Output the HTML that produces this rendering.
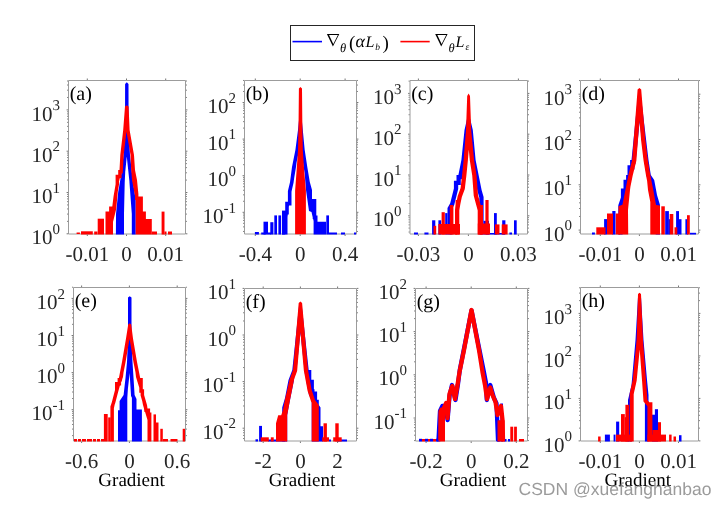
<!DOCTYPE html><html><head><meta charset="utf-8"><style>html,body{margin:0;padding:0;background:#fff;overflow:hidden}svg{display:block;will-change:transform}</style></head><body>
<svg width="727" height="508" viewBox="0 0 727 508" text-rendering="geometricPrecision">
<rect width="727" height="508" fill="#fff"/>
<clipPath id="cpa"><rect x="68.5" y="80.5" width="117.0" height="154.1"/></clipPath>
<line x1="68.5" y1="234.0" x2="185.5" y2="234.0" stroke="#9c9c9c" stroke-width="1"/>
<g clip-path="url(#cpa)">
<path d="M135.70,254.00 L135.70,200.00 L132.70,180.00 L130.00,155.00 L128.60,130.00 L128.50,84.00 L126.80,82.30 L125.10,84.00 L125.00,130.00 L123.50,155.00 L122.00,170.00 L118.20,192.00 L116.00,214.00 L115.80,254.00ZM124.00,250.60 L124.00,214.00 L124.70,183.00 L125.25,171.19 L125.37,170.46 L126.76,156.62 L129.33,180.43 L129.38,180.80 L129.50,183.00 L131.80,214.00 L131.80,250.60Z" fill="#0000ff" fill-rule="evenodd"/>
<path d="M151.80,254.00 L151.80,219.10 L145.90,219.10 L145.90,211.60 L142.90,211.60 L142.90,196.60 L138.40,196.60 L138.40,194.00 L137.00,180.00 L135.00,170.00 L134.00,155.00 L129.60,130.00 L128.60,106.50 L126.80,105.20 L125.00,106.50 L123.20,130.00 L120.30,155.00 L119.50,170.00 L118.20,170.00 L118.20,174.77 L115.60,174.77 L115.60,184.30 L113.60,196.00 L112.30,206.40 L109.10,206.40 L109.10,211.60 L105.50,211.60 L105.50,254.00ZM113.00,250.60 L113.00,222.00 L116.20,209.00 L117.80,191.61 L119.00,184.59 L119.00,181.67 L119.75,178.17 L121.60,178.17 L121.60,173.40 L122.72,173.40 L123.69,155.29 L126.43,131.63 L130.47,154.56 L130.50,155.00 L131.20,170.00 L132.00,180.00 L135.00,196.22 L135.00,200.00 L135.70,200.00 L135.70,250.60Z" fill="#ff0000" fill-rule="evenodd"/>
<rect x="97.7" y="218.7" width="6.299999999999997" height="16.30000000000001" fill="#ff0000"/>
<rect x="161.6" y="211.6" width="2.9000000000000057" height="23.400000000000006" fill="#ff0000"/>
<polygon points="76.6,234 76.6,232.6 79.9,232.6 79.9,234" fill="#ff0000"/>
<rect x="81" y="231.3" width="11.799999999999997" height="3.6999999999999886" fill="#ff0000"/>
<rect x="94.2" y="231.5" width="3.299999999999997" height="3.5" fill="#ff0000"/>
<rect x="151.8" y="231.5" width="5.199999999999989" height="3.5" fill="#ff0000"/>
<rect x="164.5" y="231.5" width="2.0" height="3.5" fill="#ff0000"/>
<rect x="168" y="231.5" width="4" height="3.5" fill="#ff0000"/>
</g>
<path d="M68.5,234.0 V80.5 H185.5 V234.0" fill="none" stroke="#9c9c9c" stroke-width="1"/>
<path d="M68.1,233.80h-1.5M185.9,233.80h1.5M68.1,221.37h-1.0M185.9,221.37h1.0M68.1,214.09h-1.0M185.9,214.09h1.0M68.1,208.93h-1.0M185.9,208.93h1.0M68.1,204.93h-1.0M185.9,204.93h1.0M68.1,201.66h-1.0M185.9,201.66h1.0M68.1,198.90h-1.0M185.9,198.90h1.0M68.1,196.50h-1.0M185.9,196.50h1.0M68.1,194.39h-1.0M185.9,194.39h1.0M68.1,192.50h-1.5M185.9,192.50h1.5M68.1,180.07h-1.0M185.9,180.07h1.0M68.1,172.79h-1.0M185.9,172.79h1.0M68.1,167.63h-1.0M185.9,167.63h1.0M68.1,163.63h-1.0M185.9,163.63h1.0M68.1,160.36h-1.0M185.9,160.36h1.0M68.1,157.60h-1.0M185.9,157.60h1.0M68.1,155.20h-1.0M185.9,155.20h1.0M68.1,153.09h-1.0M185.9,153.09h1.0M68.1,151.20h-1.5M185.9,151.20h1.5M68.1,138.77h-1.0M185.9,138.77h1.0M68.1,131.49h-1.0M185.9,131.49h1.0M68.1,126.33h-1.0M185.9,126.33h1.0M68.1,122.33h-1.0M185.9,122.33h1.0M68.1,119.06h-1.0M185.9,119.06h1.0M68.1,116.30h-1.0M185.9,116.30h1.0M68.1,113.90h-1.0M185.9,113.90h1.0M68.1,111.79h-1.0M185.9,111.79h1.0M68.1,109.90h-1.5M185.9,109.90h1.5M68.1,97.47h-1.0M185.9,97.47h1.0M68.1,90.19h-1.0M185.9,90.19h1.0M68.1,85.03h-1.0M185.9,85.03h1.0M68.1,81.03h-1.0M185.9,81.03h1.0M87.30,80.0v-1.5M87.30,234.5v1.5M126.50,80.0v-1.5M126.50,234.5v1.5M165.70,80.0v-1.5M165.70,234.5v1.5" stroke="#666" stroke-width="0.9" fill="none"/>
<text x="60.0" y="244.4" text-anchor="end" font-family="Liberation Serif" font-size="21" fill="#262626">10<tspan font-size="15" dy="-10.4">0</tspan></text>
<text x="60.0" y="203.1" text-anchor="end" font-family="Liberation Serif" font-size="21" fill="#262626">10<tspan font-size="15" dy="-10.4">1</tspan></text>
<text x="60.0" y="161.8" text-anchor="end" font-family="Liberation Serif" font-size="21" fill="#262626">10<tspan font-size="15" dy="-10.4">2</tspan></text>
<text x="60.0" y="120.5" text-anchor="end" font-family="Liberation Serif" font-size="21" fill="#262626">10<tspan font-size="15" dy="-10.4">3</tspan></text>
<text x="87.3" y="261.0" text-anchor="middle" font-family="Liberation Serif" font-size="21" fill="#262626">-0.01</text>
<text x="126.5" y="261.0" text-anchor="middle" font-family="Liberation Serif" font-size="21" fill="#262626">0</text>
<text x="165.7" y="261.0" text-anchor="middle" font-family="Liberation Serif" font-size="21" fill="#262626">0.01</text>
<text x="69.7" y="100.2" font-family="Liberation Serif" font-size="20" fill="#000">(a)</text>
<clipPath id="cpb"><rect x="244.5" y="80.5" width="112.0" height="154.1"/></clipPath>
<line x1="244.5" y1="234.0" x2="356.5" y2="234.0" stroke="#9c9c9c" stroke-width="1"/>
<g clip-path="url(#cpb)">
<path d="M326.00,254.00 L326.00,221.70 L317.50,221.70 L317.50,215.40 L316.30,215.40 L316.30,199.00 L312.00,199.00 L312.00,190.00 L309.80,182.00 L307.30,167.00 L304.70,150.00 L302.80,130.00 L301.30,115.00 L300.40,114.00 L299.50,115.00 L298.00,130.00 L295.40,150.00 L292.00,167.00 L290.00,182.20 L287.90,191.00 L287.90,201.80 L285.20,201.80 L285.20,210.80 L282.00,210.80 L282.00,254.00ZM287.50,250.40 L287.50,217.00 L287.84,214.40 L288.80,214.40 L288.80,207.05 L289.02,205.40 L291.50,205.40 L291.50,191.85 L292.08,188.99 L293.54,182.85 L294.25,177.52 L296.00,167.00 L296.47,163.01 L298.95,150.59 L300.22,140.87 L301.13,150.44 L303.75,167.57 L304.63,172.88 L306.00,190.00 L309.00,211.00 L311.50,212.00 L312.70,217.14 L312.70,219.00 L313.13,219.00 L313.60,221.00 L313.60,250.40Z" fill="#0000ff" fill-rule="evenodd"/>
<rect x="263.5" y="221.7" width="4.5" height="13.300000000000011" fill="#0000ff"/>
<rect x="270.3" y="222.2" width="3.099999999999966" height="12.800000000000011" fill="#0000ff"/>
<rect x="274.3" y="215.4" width="2.6999999999999886" height="19.599999999999994" fill="#0000ff"/>
<rect x="278.4" y="215.4" width="2.7000000000000455" height="19.599999999999994" fill="#0000ff"/>
<rect x="282" y="210.8" width="3.1999999999999886" height="24.19999999999999" fill="#0000ff"/>
<rect x="326.3" y="215.4" width="2.6999999999999886" height="19.599999999999994" fill="#0000ff"/>
<rect x="254.9" y="232" width="3.9999999999999716" height="3.0" fill="#0000ff"/>
<rect x="261.2" y="232.5" width="4.5" height="2.5" fill="#0000ff"/>
<rect x="268" y="232.5" width="3" height="2.5" fill="#0000ff"/>
<rect x="329" y="232.5" width="8" height="2.5" fill="#0000ff"/>
<rect x="341" y="232.5" width="4" height="2.5" fill="#0000ff"/>
<rect x="354" y="232.5" width="2.3999999999999773" height="2.5" fill="#0000ff"/>
<polygon points="295.1,234.5 295.1,190.7 296.5,172 298,150 298.6,120 298.9,88.5 300.4,87.1 302,88.5 302.3,120 302.8,150 304.3,172 305.9,190.7 305.9,234.5" fill="#ff0000"/>
</g>
<path d="M244.5,234.0 V80.5 H356.5 V234.0" fill="none" stroke="#9c9c9c" stroke-width="1"/>
<path d="M244.1,231.44h-1.0M356.9,231.44h1.0M244.1,226.86h-1.0M356.9,226.86h1.0M244.1,223.32h-1.0M356.9,223.32h1.0M244.1,220.42h-1.0M356.9,220.42h1.0M244.1,217.97h-1.0M356.9,217.97h1.0M244.1,215.85h-1.0M356.9,215.85h1.0M244.1,213.97h-1.0M356.9,213.97h1.0M244.1,212.30h-1.5M356.9,212.30h1.5M244.1,201.28h-1.0M356.9,201.28h1.0M244.1,194.84h-1.0M356.9,194.84h1.0M244.1,190.26h-1.0M356.9,190.26h1.0M244.1,186.72h-1.0M356.9,186.72h1.0M244.1,183.82h-1.0M356.9,183.82h1.0M244.1,181.37h-1.0M356.9,181.37h1.0M244.1,179.25h-1.0M356.9,179.25h1.0M244.1,177.37h-1.0M356.9,177.37h1.0M244.1,175.70h-1.5M356.9,175.70h1.5M244.1,164.68h-1.0M356.9,164.68h1.0M244.1,158.24h-1.0M356.9,158.24h1.0M244.1,153.66h-1.0M356.9,153.66h1.0M244.1,150.12h-1.0M356.9,150.12h1.0M244.1,147.22h-1.0M356.9,147.22h1.0M244.1,144.77h-1.0M356.9,144.77h1.0M244.1,142.65h-1.0M356.9,142.65h1.0M244.1,140.77h-1.0M356.9,140.77h1.0M244.1,139.10h-1.5M356.9,139.10h1.5M244.1,128.08h-1.0M356.9,128.08h1.0M244.1,121.64h-1.0M356.9,121.64h1.0M244.1,117.06h-1.0M356.9,117.06h1.0M244.1,113.52h-1.0M356.9,113.52h1.0M244.1,110.62h-1.0M356.9,110.62h1.0M244.1,108.17h-1.0M356.9,108.17h1.0M244.1,106.05h-1.0M356.9,106.05h1.0M244.1,104.17h-1.0M356.9,104.17h1.0M244.1,102.50h-1.5M356.9,102.50h1.5M244.1,91.48h-1.0M356.9,91.48h1.0M244.1,85.04h-1.0M356.9,85.04h1.0M244.1,80.46h-1.0M356.9,80.46h1.0M255.30,80.0v-1.5M255.30,234.5v1.5M300.20,80.0v-1.5M300.20,234.5v1.5M345.10,80.0v-1.5M345.10,234.5v1.5" stroke="#666" stroke-width="0.9" fill="none"/>
<text x="236.0" y="222.9" text-anchor="end" font-family="Liberation Serif" font-size="21" fill="#262626">10<tspan font-size="15" dy="-10.4">-1</tspan></text>
<text x="236.0" y="186.3" text-anchor="end" font-family="Liberation Serif" font-size="21" fill="#262626">10<tspan font-size="15" dy="-10.4">0</tspan></text>
<text x="236.0" y="149.7" text-anchor="end" font-family="Liberation Serif" font-size="21" fill="#262626">10<tspan font-size="15" dy="-10.4">1</tspan></text>
<text x="236.0" y="113.1" text-anchor="end" font-family="Liberation Serif" font-size="21" fill="#262626">10<tspan font-size="15" dy="-10.4">2</tspan></text>
<text x="255.3" y="261.0" text-anchor="middle" font-family="Liberation Serif" font-size="21" fill="#262626">-0.4</text>
<text x="300.2" y="261.0" text-anchor="middle" font-family="Liberation Serif" font-size="21" fill="#262626">0</text>
<text x="345.1" y="261.0" text-anchor="middle" font-family="Liberation Serif" font-size="21" fill="#262626">0.4</text>
<text x="245.7" y="100.2" font-family="Liberation Serif" font-size="20" fill="#000">(b)</text>
<clipPath id="cpc"><rect x="410.0" y="80.5" width="117.5" height="154.1"/></clipPath>
<line x1="410.0" y1="234.0" x2="527.5" y2="234.0" stroke="#9c9c9c" stroke-width="1"/>
<g clip-path="url(#cpc)">
<path d="M483.60,254.00 L483.60,197.00 L481.60,190.00 L478.60,175.00 L475.60,160.00 L472.80,130.00 L470.20,119.00 L468.60,117.50 L467.00,119.00 L464.50,130.00 L461.40,160.00 L458.40,175.00 L456.50,175.00 L456.50,180.66 L453.90,180.66 L453.90,188.40 L450.20,203.30 L447.50,208.10 L447.50,254.00ZM451.80,209.23 L454.23,204.90 L458.20,188.93 L458.20,184.96 L460.80,184.96 L460.80,179.30 L461.93,179.30 L465.66,160.64 L468.64,131.74 L471.34,160.62 L477.42,191.01 L479.30,197.60 L479.30,249.70 L451.80,249.70Z" fill="#0000ff" fill-rule="evenodd"/>
<rect x="432.1" y="220.3" width="3.1999999999999886" height="14.699999999999989" fill="#0000ff"/>
<rect x="438.4" y="220.3" width="2.8000000000000114" height="14.699999999999989" fill="#0000ff"/>
<rect x="445.2" y="213.1" width="2.3000000000000114" height="21.900000000000006" fill="#0000ff"/>
<rect x="483.6" y="220.8" width="5.399999999999977" height="14.199999999999989" fill="#0000ff"/>
<rect x="494" y="213.1" width="2.8000000000000114" height="21.900000000000006" fill="#0000ff"/>
<rect x="502.2" y="220.3" width="3.1999999999999886" height="14.699999999999989" fill="#0000ff"/>
<rect x="514" y="220.3" width="2.7000000000000455" height="14.699999999999989" fill="#0000ff"/>
<rect x="414" y="232.5" width="4" height="2.5" fill="#0000ff"/>
<rect x="424.4" y="232.5" width="4.100000000000023" height="2.5" fill="#0000ff"/>
<rect x="486" y="233" width="19" height="2.0" fill="#0000ff"/>
<rect x="509.4" y="232.5" width="2.6000000000000227" height="2.5" fill="#0000ff"/>
<path d="M482.00,254.00 L482.00,210.00 L480.10,203.00 L478.00,195.00 L476.50,175.00 L474.10,160.00 L471.20,130.00 L470.00,96.00 L468.60,93.50 L467.20,96.00 L466.00,130.00 L463.60,160.00 L462.10,175.00 L460.60,188.00 L457.70,195.90 L456.20,203.00 L455.00,210.00 L455.00,254.00ZM459.30,210.37 L460.42,203.81 L461.84,197.09 L464.81,189.00 L466.38,175.46 L467.88,160.39 L468.76,149.44 L469.83,160.55 L472.23,175.50 L473.74,195.71 L475.95,204.11 L477.70,210.57 L477.70,249.70 L459.30,249.70Z" fill="#ff0000" fill-rule="evenodd"/>
<rect x="433.5" y="225.8" width="2.6999999999999886" height="9.199999999999989" fill="#ff0000"/>
<rect x="438.4" y="224" width="21.600000000000023" height="11.0" fill="#ff0000"/>
<rect x="441.6" y="212.2" width="3.1999999999999886" height="22.80000000000001" fill="#ff0000"/>
<rect x="449.8" y="205" width="3.599999999999966" height="30.0" fill="#ff0000"/>
<rect x="455.6" y="200" width="1.3999999999999773" height="35.0" fill="#ff0000"/>
<rect x="480" y="205" width="3" height="30.0" fill="#ff0000"/>
<rect x="485.4" y="200" width="3.2000000000000455" height="35.0" fill="#ff0000"/>
<rect x="477.8" y="223.5" width="12.199999999999989" height="11.5" fill="#ff0000"/>
<rect x="494.9" y="224.4" width="4.600000000000023" height="10.599999999999994" fill="#ff0000"/>
<rect x="501.7" y="224.4" width="5.900000000000034" height="10.599999999999994" fill="#ff0000"/>
</g>
<path d="M410.0,234.0 V80.5 H527.5 V234.0" fill="none" stroke="#9c9c9c" stroke-width="1"/>
<path d="M409.6,232.04h-1.0M527.9,232.04h1.0M409.6,228.08h-1.0M527.9,228.08h1.0M409.6,224.85h-1.0M527.9,224.85h1.0M409.6,222.12h-1.0M527.9,222.12h1.0M409.6,219.75h-1.0M527.9,219.75h1.0M409.6,217.67h-1.0M527.9,217.67h1.0M409.6,215.80h-1.5M527.9,215.80h1.5M409.6,203.52h-1.0M527.9,203.52h1.0M409.6,196.33h-1.0M527.9,196.33h1.0M409.6,191.24h-1.0M527.9,191.24h1.0M409.6,187.28h-1.0M527.9,187.28h1.0M409.6,184.05h-1.0M527.9,184.05h1.0M409.6,181.32h-1.0M527.9,181.32h1.0M409.6,178.95h-1.0M527.9,178.95h1.0M409.6,176.87h-1.0M527.9,176.87h1.0M409.6,175.00h-1.5M527.9,175.00h1.5M409.6,162.72h-1.0M527.9,162.72h1.0M409.6,155.53h-1.0M527.9,155.53h1.0M409.6,150.44h-1.0M527.9,150.44h1.0M409.6,146.48h-1.0M527.9,146.48h1.0M409.6,143.25h-1.0M527.9,143.25h1.0M409.6,140.52h-1.0M527.9,140.52h1.0M409.6,138.15h-1.0M527.9,138.15h1.0M409.6,136.07h-1.0M527.9,136.07h1.0M409.6,134.20h-1.5M527.9,134.20h1.5M409.6,121.92h-1.0M527.9,121.92h1.0M409.6,114.73h-1.0M527.9,114.73h1.0M409.6,109.64h-1.0M527.9,109.64h1.0M409.6,105.68h-1.0M527.9,105.68h1.0M409.6,102.45h-1.0M527.9,102.45h1.0M409.6,99.72h-1.0M527.9,99.72h1.0M409.6,97.35h-1.0M527.9,97.35h1.0M409.6,95.27h-1.0M527.9,95.27h1.0M409.6,93.40h-1.5M527.9,93.40h1.5M409.6,81.12h-1.0M527.9,81.12h1.0M418.40,80.0v-1.5M418.40,234.5v1.5M468.40,80.0v-1.5M468.40,234.5v1.5M518.40,80.0v-1.5M518.40,234.5v1.5" stroke="#666" stroke-width="0.9" fill="none"/>
<text x="401.5" y="226.4" text-anchor="end" font-family="Liberation Serif" font-size="21" fill="#262626">10<tspan font-size="15" dy="-10.4">0</tspan></text>
<text x="401.5" y="185.6" text-anchor="end" font-family="Liberation Serif" font-size="21" fill="#262626">10<tspan font-size="15" dy="-10.4">1</tspan></text>
<text x="401.5" y="144.8" text-anchor="end" font-family="Liberation Serif" font-size="21" fill="#262626">10<tspan font-size="15" dy="-10.4">2</tspan></text>
<text x="401.5" y="104.0" text-anchor="end" font-family="Liberation Serif" font-size="21" fill="#262626">10<tspan font-size="15" dy="-10.4">3</tspan></text>
<text x="418.4" y="261.0" text-anchor="middle" font-family="Liberation Serif" font-size="21" fill="#262626">-0.03</text>
<text x="468.4" y="261.0" text-anchor="middle" font-family="Liberation Serif" font-size="21" fill="#262626">0</text>
<text x="518.4" y="261.0" text-anchor="middle" font-family="Liberation Serif" font-size="21" fill="#262626">0.03</text>
<text x="411.2" y="100.2" font-family="Liberation Serif" font-size="20" fill="#000">(c)</text>
<clipPath id="cpd"><rect x="580.5" y="80.5" width="118.0" height="154.1"/></clipPath>
<line x1="580.5" y1="234.0" x2="698.5" y2="234.0" stroke="#9c9c9c" stroke-width="1"/>
<g clip-path="url(#cpd)">
<path d="M660.00,254.00 L660.00,205.00 L657.00,195.00 L654.20,180.00 L650.80,175.00 L648.50,160.00 L640.80,95.00 L639.40,94.00 L638.00,95.00 L631.50,160.00 L630.10,160.00 L630.10,165.25 L627.50,165.25 L627.50,175.00 L626.10,175.00 L626.10,179.75 L623.50,179.75 L623.50,188.58 L620.90,188.58 L620.90,197.40 L618.30,205.30 L618.30,254.00ZM622.60,205.99 L625.20,198.09 L625.20,192.88 L627.80,192.88 L627.80,184.05 L630.40,184.05 L630.40,179.30 L631.80,179.30 L631.80,169.55 L634.40,169.55 L634.40,164.30 L635.39,164.30 L639.64,121.79 L644.24,160.58 L646.70,176.61 L650.14,181.67 L652.82,196.02 L655.70,205.63 L655.70,249.70 L622.60,249.70Z" fill="#0000ff" fill-rule="evenodd"/>
<rect x="604.1" y="219.1" width="2.8999999999999773" height="15.900000000000006" fill="#0000ff"/>
<rect x="612.3" y="211" width="3.2000000000000455" height="24.0" fill="#0000ff"/>
<rect x="665.2" y="211.1" width="3.699999999999932" height="23.900000000000006" fill="#0000ff"/>
<rect x="668.9" y="219.2" width="1.1000000000000227" height="15.800000000000011" fill="#0000ff"/>
<rect x="676.1" y="211.1" width="2.8999999999999773" height="23.900000000000006" fill="#0000ff"/>
<rect x="679" y="219.2" width="2.5" height="15.800000000000011" fill="#0000ff"/>
<rect x="685.4" y="219.2" width="2.6000000000000227" height="15.800000000000011" fill="#0000ff"/>
<rect x="592" y="232.5" width="2.8999999999999773" height="2.5" fill="#0000ff"/>
<rect x="690" y="232.8" width="6" height="2.1999999999999886" fill="#0000ff"/>
<path d="M660.00,254.00 L660.00,205.60 L656.00,205.00 L653.30,190.00 L650.30,175.00 L647.80,160.00 L645.40,140.00 L641.20,89.50 L639.40,88.10 L637.60,89.50 L632.10,160.00 L628.40,175.00 L625.40,190.00 L622.40,204.80 L618.50,206.30 L618.50,254.00ZM628.36,249.70 L628.00,210.00 L630.00,190.00 L630.43,186.78 L632.60,175.94 L636.36,160.69 L639.48,120.69 L641.12,140.43 L643.54,160.61 L646.07,175.78 L647.09,180.85 L648.00,190.00 L650.30,202.00 L650.30,249.70Z" fill="#ff0000" fill-rule="evenodd"/>
<rect x="596.3" y="227.3" width="9.200000000000045" height="7.699999999999989" fill="#ff0000"/>
<rect x="607" y="213.5" width="6" height="21.5" fill="#ff0000"/>
<rect x="615.8" y="213.5" width="4.2000000000000455" height="21.5" fill="#ff0000"/>
<rect x="661.3" y="206.3" width="3.5" height="28.69999999999999" fill="#ff0000"/>
<rect x="669.7" y="214" width="3.599999999999909" height="21.0" fill="#ff0000"/>
<rect x="674.5" y="227.3" width="2.7999999999999545" height="7.699999999999989" fill="#ff0000"/>
<rect x="687" y="215.2" width="2.7999999999999545" height="19.80000000000001" fill="#ff0000"/>
</g>
<path d="M580.5,234.0 V80.5 H698.5 V234.0" fill="none" stroke="#9c9c9c" stroke-width="1"/>
<path d="M580.1,232.17h-1.0M698.9,232.17h1.0M580.1,230.10h-1.5M698.9,230.10h1.5M580.1,216.46h-1.0M698.9,216.46h1.0M580.1,208.49h-1.0M698.9,208.49h1.0M580.1,202.83h-1.0M698.9,202.83h1.0M580.1,198.44h-1.0M698.9,198.44h1.0M580.1,194.85h-1.0M698.9,194.85h1.0M580.1,191.82h-1.0M698.9,191.82h1.0M580.1,189.19h-1.0M698.9,189.19h1.0M580.1,186.87h-1.0M698.9,186.87h1.0M580.1,184.80h-1.5M698.9,184.80h1.5M580.1,171.16h-1.0M698.9,171.16h1.0M580.1,163.19h-1.0M698.9,163.19h1.0M580.1,157.53h-1.0M698.9,157.53h1.0M580.1,153.14h-1.0M698.9,153.14h1.0M580.1,149.55h-1.0M698.9,149.55h1.0M580.1,146.52h-1.0M698.9,146.52h1.0M580.1,143.89h-1.0M698.9,143.89h1.0M580.1,141.57h-1.0M698.9,141.57h1.0M580.1,139.50h-1.5M698.9,139.50h1.5M580.1,125.86h-1.0M698.9,125.86h1.0M580.1,117.89h-1.0M698.9,117.89h1.0M580.1,112.23h-1.0M698.9,112.23h1.0M580.1,107.84h-1.0M698.9,107.84h1.0M580.1,104.25h-1.0M698.9,104.25h1.0M580.1,101.22h-1.0M698.9,101.22h1.0M580.1,98.59h-1.0M698.9,98.59h1.0M580.1,96.27h-1.0M698.9,96.27h1.0M580.1,94.20h-1.5M698.9,94.20h1.5M580.1,80.56h-1.0M698.9,80.56h1.0M600.30,80.0v-1.5M600.30,234.5v1.5M639.40,80.0v-1.5M639.40,234.5v1.5M678.50,80.0v-1.5M678.50,234.5v1.5" stroke="#666" stroke-width="0.9" fill="none"/>
<text x="572.0" y="240.7" text-anchor="end" font-family="Liberation Serif" font-size="21" fill="#262626">10<tspan font-size="15" dy="-10.4">0</tspan></text>
<text x="572.0" y="195.4" text-anchor="end" font-family="Liberation Serif" font-size="21" fill="#262626">10<tspan font-size="15" dy="-10.4">1</tspan></text>
<text x="572.0" y="150.1" text-anchor="end" font-family="Liberation Serif" font-size="21" fill="#262626">10<tspan font-size="15" dy="-10.4">2</tspan></text>
<text x="572.0" y="104.8" text-anchor="end" font-family="Liberation Serif" font-size="21" fill="#262626">10<tspan font-size="15" dy="-10.4">3</tspan></text>
<text x="600.3" y="261.0" text-anchor="middle" font-family="Liberation Serif" font-size="21" fill="#262626">-0.01</text>
<text x="639.4" y="261.0" text-anchor="middle" font-family="Liberation Serif" font-size="21" fill="#262626">0</text>
<text x="678.5" y="261.0" text-anchor="middle" font-family="Liberation Serif" font-size="21" fill="#262626">0.01</text>
<text x="581.7" y="100.2" font-family="Liberation Serif" font-size="20" fill="#000">(d)</text>
<clipPath id="cpe"><rect x="73.5" y="287.5" width="112.0" height="154.1"/></clipPath>
<line x1="73.5" y1="441.0" x2="185.5" y2="441.0" stroke="#9c9c9c" stroke-width="1"/>
<g clip-path="url(#cpe)">
<path d="M141.90,461.00 L141.90,409.50 L136.50,409.50 L136.50,399.00 L134.60,395.00 L132.50,362.00 L131.50,338.00 L131.50,297.50 L129.70,296.30 L128.00,297.50 L128.00,338.00 L127.00,362.00 L125.50,378.00 L123.60,395.00 L119.60,401.00 L119.60,410.30 L118.00,410.30 L118.00,461.00ZM127.30,457.40 L127.30,398.00 L127.91,388.84 L129.08,378.37 L129.59,372.95 L131.05,395.92 L131.88,397.66 L131.90,398.00 L131.90,457.40Z" fill="#0000ff" fill-rule="evenodd"/>
<path d="M151.40,461.00 L151.40,414.40 L151.40,412.43 L150.10,412.43 L150.10,408.50 L147.50,408.50 L147.00,405.00 L144.10,395.00 L144.10,389.33 L142.80,389.33 L142.80,378.00 L140.20,378.00 L137.00,362.00 L133.00,338.60 L131.20,324.50 L129.70,323.30 L128.20,324.50 L126.00,338.60 L122.00,362.00 L118.90,378.00 L117.60,378.00 L117.60,382.00 L115.00,382.00 L115.00,390.00 L111.90,401.90 L110.40,406.50 L110.40,461.00ZM113.90,457.50 L113.90,408.20 L114.70,404.61 L115.26,402.88 L118.25,391.40 L119.80,386.00 L119.98,385.50 L121.10,385.50 L121.10,382.34 L121.40,381.50 L121.79,381.50 L122.25,379.11 L123.00,377.00 L123.53,372.52 L125.44,362.63 L129.45,339.16 L129.50,338.85 L129.54,339.12 L133.56,362.64 L135.47,372.19 L136.00,377.00 L137.23,381.00 L137.33,381.50 L137.38,381.50 L139.30,387.72 L139.30,392.83 L140.57,392.83 L140.60,393.00 L140.60,395.50 L142.21,401.05 L143.00,405.00 L143.89,407.96 L144.46,412.00 L145.10,412.00 L147.50,420.00 L147.50,457.50Z" fill="#ff0000" fill-rule="evenodd"/>
<rect x="103.9" y="414" width="3.799999999999997" height="28.0" fill="#ff0000"/>
<rect x="108.2" y="417.4" width="2.5" height="24.600000000000023" fill="#ff0000"/>
<rect x="153.5" y="414.4" width="2.5" height="27.600000000000023" fill="#ff0000"/>
<rect x="156" y="422.5" width="2.5" height="19.5" fill="#ff0000"/>
<rect x="160.3" y="428.8" width="2.5" height="13.199999999999989" fill="#ff0000"/>
<rect x="182.7" y="428.8" width="2.700000000000017" height="13.199999999999989" fill="#ff0000"/>
<rect x="74" y="439" width="3" height="3.0" fill="#ff0000"/>
<rect x="78" y="439" width="3" height="3.0" fill="#ff0000"/>
<rect x="82" y="439" width="4" height="3.0" fill="#ff0000"/>
<rect x="87" y="439" width="5" height="3.0" fill="#ff0000"/>
<rect x="93" y="439" width="3" height="3.0" fill="#ff0000"/>
<rect x="97" y="439" width="3" height="3.0" fill="#ff0000"/>
<rect x="101" y="439" width="3" height="3.0" fill="#ff0000"/>
<rect x="163" y="439" width="5" height="3.0" fill="#ff0000"/>
<rect x="170.5" y="439" width="7.0" height="3.0" fill="#ff0000"/>
</g>
<path d="M73.5,441.0 V287.5 H185.5 V441.0" fill="none" stroke="#9c9c9c" stroke-width="1"/>
<path d="M73.1,435.63h-1.0M185.9,435.63h1.0M73.1,429.10h-1.0M185.9,429.10h1.0M73.1,424.46h-1.0M185.9,424.46h1.0M73.1,420.87h-1.0M185.9,420.87h1.0M73.1,417.93h-1.0M185.9,417.93h1.0M73.1,415.45h-1.0M185.9,415.45h1.0M73.1,413.30h-1.0M185.9,413.30h1.0M73.1,411.40h-1.0M185.9,411.40h1.0M73.1,409.70h-1.5M185.9,409.70h1.5M73.1,398.53h-1.0M185.9,398.53h1.0M73.1,392.00h-1.0M185.9,392.00h1.0M73.1,387.36h-1.0M185.9,387.36h1.0M73.1,383.77h-1.0M185.9,383.77h1.0M73.1,380.83h-1.0M185.9,380.83h1.0M73.1,378.35h-1.0M185.9,378.35h1.0M73.1,376.20h-1.0M185.9,376.20h1.0M73.1,374.30h-1.0M185.9,374.30h1.0M73.1,372.60h-1.5M185.9,372.60h1.5M73.1,361.43h-1.0M185.9,361.43h1.0M73.1,354.90h-1.0M185.9,354.90h1.0M73.1,350.26h-1.0M185.9,350.26h1.0M73.1,346.67h-1.0M185.9,346.67h1.0M73.1,343.73h-1.0M185.9,343.73h1.0M73.1,341.25h-1.0M185.9,341.25h1.0M73.1,339.10h-1.0M185.9,339.10h1.0M73.1,337.20h-1.0M185.9,337.20h1.0M73.1,335.50h-1.5M185.9,335.50h1.5M73.1,324.33h-1.0M185.9,324.33h1.0M73.1,317.80h-1.0M185.9,317.80h1.0M73.1,313.16h-1.0M185.9,313.16h1.0M73.1,309.57h-1.0M185.9,309.57h1.0M73.1,306.63h-1.0M185.9,306.63h1.0M73.1,304.15h-1.0M185.9,304.15h1.0M73.1,302.00h-1.0M185.9,302.00h1.0M73.1,300.10h-1.0M185.9,300.10h1.0M73.1,298.40h-1.5M185.9,298.40h1.5M73.1,287.23h-1.0M185.9,287.23h1.0M81.60,287.0v-1.5M81.60,441.5v1.5M129.40,287.0v-1.5M129.40,441.5v1.5M177.20,287.0v-1.5M177.20,441.5v1.5" stroke="#666" stroke-width="0.9" fill="none"/>
<text x="65.0" y="420.3" text-anchor="end" font-family="Liberation Serif" font-size="21" fill="#262626">10<tspan font-size="15" dy="-10.4">-1</tspan></text>
<text x="65.0" y="383.2" text-anchor="end" font-family="Liberation Serif" font-size="21" fill="#262626">10<tspan font-size="15" dy="-10.4">0</tspan></text>
<text x="65.0" y="346.1" text-anchor="end" font-family="Liberation Serif" font-size="21" fill="#262626">10<tspan font-size="15" dy="-10.4">1</tspan></text>
<text x="65.0" y="309.0" text-anchor="end" font-family="Liberation Serif" font-size="21" fill="#262626">10<tspan font-size="15" dy="-10.4">2</tspan></text>
<text x="81.6" y="468.0" text-anchor="middle" font-family="Liberation Serif" font-size="21" fill="#262626">-0.6</text>
<text x="129.4" y="468.0" text-anchor="middle" font-family="Liberation Serif" font-size="21" fill="#262626">0</text>
<text x="177.2" y="468.0" text-anchor="middle" font-family="Liberation Serif" font-size="21" fill="#262626">0.6</text>
<text x="74.7" y="307.2" font-family="Liberation Serif" font-size="20" fill="#000">(e)</text>
<clipPath id="cpf"><rect x="244.5" y="288.5" width="112.0" height="153.1"/></clipPath>
<line x1="244.5" y1="441.0" x2="356.5" y2="441.0" stroke="#9c9c9c" stroke-width="1"/>
<g clip-path="url(#cpf)">
<path d="M323.00,461.00 L323.00,426.30 L320.50,426.30 L320.50,407.60 L318.80,405.00 L318.80,399.70 L317.10,399.70 L317.10,391.60 L314.50,391.60 L314.50,389.37 L313.90,389.37 L313.90,379.68 L311.30,379.68 L311.30,370.00 L308.70,370.00 L301.80,306.00 L300.40,305.00 L299.00,306.00 L292.30,370.00 L288.50,380.00 L285.00,398.00 L282.20,407.40 L282.20,461.00ZM287.20,456.80 L287.20,415.00 L290.00,400.00 L294.00,380.00 L294.27,376.64 L296.42,370.98 L300.44,332.58 L304.93,374.20 L305.59,374.20 L306.00,380.00 L309.00,395.00 L311.70,400.00 L311.70,456.80Z" fill="#0000ff" fill-rule="evenodd"/>
<rect x="259.1" y="425.9" width="2.8999999999999773" height="16.100000000000023" fill="#0000ff"/>
<rect x="255.5" y="439.3" width="2.5" height="2.6999999999999886" fill="#0000ff"/>
<rect x="329" y="439.5" width="2" height="2.5" fill="#0000ff"/>
<rect x="337" y="439.5" width="10" height="2.5" fill="#0000ff"/>
<rect x="268" y="439.5" width="17" height="2.5" fill="#0000ff"/>
<path d="M318.80,461.00 L318.80,405.00 L315.00,400.00 L311.70,390.00 L308.00,370.00 L302.10,303.00 L300.40,301.60 L298.70,303.00 L293.00,370.00 L289.40,380.00 L287.20,390.10 L285.10,398.70 L282.90,410.20 L281.20,415.20 L278.20,415.20 L276.00,423.30 L276.00,461.00ZM287.20,456.80 L287.20,415.00 L290.00,400.00 L294.00,380.00 L294.04,379.51 L297.14,370.90 L300.44,332.06 L303.83,370.57 L307.62,391.04 L311.23,401.98 L311.70,402.60 L311.70,456.80Z" fill="#ff0000" fill-rule="evenodd"/>
<rect x="323.5" y="423.3" width="3.3999999999999773" height="18.69999999999999" fill="#ff0000"/>
<rect x="335.3" y="423.3" width="3.3999999999999773" height="18.69999999999999" fill="#ff0000"/>
<rect x="260.7" y="437.3" width="8.100000000000023" height="4.699999999999989" fill="#ff0000"/>
<rect x="270.8" y="437.3" width="2.8999999999999773" height="4.699999999999989" fill="#ff0000"/>
<rect x="322.2" y="437.3" width="6.800000000000011" height="4.699999999999989" fill="#ff0000"/>
<rect x="333.2" y="437.3" width="8.5" height="4.699999999999989" fill="#ff0000"/>
</g>
<path d="M244.5,441.0 V288.5 H356.5 V441.0" fill="none" stroke="#9c9c9c" stroke-width="1"/>
<path d="M244.1,438.54h-1.0M356.9,438.54h1.0M244.1,435.42h-1.0M356.9,435.42h1.0M244.1,432.72h-1.0M356.9,432.72h1.0M244.1,430.33h-1.0M356.9,430.33h1.0M244.1,428.20h-1.5M356.9,428.20h1.5M244.1,414.17h-1.0M356.9,414.17h1.0M244.1,405.97h-1.0M356.9,405.97h1.0M244.1,400.14h-1.0M356.9,400.14h1.0M244.1,395.63h-1.0M356.9,395.63h1.0M244.1,391.94h-1.0M356.9,391.94h1.0M244.1,388.82h-1.0M356.9,388.82h1.0M244.1,386.12h-1.0M356.9,386.12h1.0M244.1,383.73h-1.0M356.9,383.73h1.0M244.1,381.60h-1.5M356.9,381.60h1.5M244.1,367.57h-1.0M356.9,367.57h1.0M244.1,359.37h-1.0M356.9,359.37h1.0M244.1,353.54h-1.0M356.9,353.54h1.0M244.1,349.03h-1.0M356.9,349.03h1.0M244.1,345.34h-1.0M356.9,345.34h1.0M244.1,342.22h-1.0M356.9,342.22h1.0M244.1,339.52h-1.0M356.9,339.52h1.0M244.1,337.13h-1.0M356.9,337.13h1.0M244.1,335.00h-1.5M356.9,335.00h1.5M244.1,320.97h-1.0M356.9,320.97h1.0M244.1,312.77h-1.0M356.9,312.77h1.0M244.1,306.94h-1.0M356.9,306.94h1.0M244.1,302.43h-1.0M356.9,302.43h1.0M244.1,298.74h-1.0M356.9,298.74h1.0M244.1,295.62h-1.0M356.9,295.62h1.0M244.1,292.92h-1.0M356.9,292.92h1.0M244.1,290.53h-1.0M356.9,290.53h1.0M244.1,288.40h-1.5M356.9,288.40h1.5M263.20,288.0v-1.5M263.20,441.5v1.5M300.40,288.0v-1.5M300.40,441.5v1.5M337.60,288.0v-1.5M337.60,441.5v1.5" stroke="#666" stroke-width="0.9" fill="none"/>
<text x="236.0" y="438.8" text-anchor="end" font-family="Liberation Serif" font-size="21" fill="#262626">10<tspan font-size="15" dy="-10.4">-2</tspan></text>
<text x="236.0" y="392.2" text-anchor="end" font-family="Liberation Serif" font-size="21" fill="#262626">10<tspan font-size="15" dy="-10.4">-1</tspan></text>
<text x="236.0" y="345.6" text-anchor="end" font-family="Liberation Serif" font-size="21" fill="#262626">10<tspan font-size="15" dy="-10.4">0</tspan></text>
<text x="236.0" y="299.0" text-anchor="end" font-family="Liberation Serif" font-size="21" fill="#262626">10<tspan font-size="15" dy="-10.4">1</tspan></text>
<text x="263.2" y="468.0" text-anchor="middle" font-family="Liberation Serif" font-size="21" fill="#262626">-2</text>
<text x="300.4" y="468.0" text-anchor="middle" font-family="Liberation Serif" font-size="21" fill="#262626">0</text>
<text x="337.6" y="468.0" text-anchor="middle" font-family="Liberation Serif" font-size="21" fill="#262626">2</text>
<text x="245.7" y="308.2" font-family="Liberation Serif" font-size="20" fill="#000">(f)</text>
<clipPath id="cpg"><rect x="415.5" y="288.5" width="112.0" height="153.1"/></clipPath>
<line x1="415.5" y1="441.0" x2="527.5" y2="441.0" stroke="#9c9c9c" stroke-width="1"/>
<g clip-path="url(#cpg)">
<polyline points="438.5,440 440,411 442.4,405.9 445.5,406 447.6,420 449.5,396 452,385 455.5,400 458,384 459.8,370 471.5,310.5 483.5,370 486,383 486.8,400 490.3,385 494,398 496.5,403.5 498,440" fill="none" stroke="#0000ff" stroke-width="4.3" stroke-linejoin="round" stroke-linecap="round"/>
<rect x="500.4" y="403.5" width="2.6000000000000227" height="38.5" fill="#0000ff"/>
<rect x="497.1" y="420.5" width="2.8999999999999773" height="21.5" fill="#0000ff"/>
<rect x="419" y="438.8" width="3" height="3.1999999999999886" fill="#0000ff"/>
<rect x="425" y="438.8" width="3" height="3.1999999999999886" fill="#0000ff"/>
<rect x="430" y="438.8" width="3" height="3.1999999999999886" fill="#0000ff"/>
<rect x="436" y="438.8" width="2.5" height="3.1999999999999886" fill="#0000ff"/>
<rect x="504" y="439" width="2.5" height="3.0" fill="#0000ff"/>
<rect x="508" y="439" width="2" height="3.0" fill="#0000ff"/>
<polyline points="440.5,439 440.8,412 441.5,409.5 443.5,409 446.2,403 447.5,418 449.5,394 452.3,386 455,399 457.5,385 459.5,372 464,350 471.5,310 479,350 482.5,372 485,385 487,399 490.3,387.5 492.5,395 495.5,402 497.5,415 501,406 502.5,420 503,440" fill="none" stroke="#ff0000" stroke-width="4.3" stroke-linejoin="round" stroke-linecap="round"/>
<rect x="438.6" y="410" width="6.399999999999977" height="32.0" fill="#ff0000"/>
<rect x="497.5" y="420.3" width="7.100000000000023" height="21.69999999999999" fill="#ff0000"/>
<rect x="510.3" y="426.7" width="2.900000000000034" height="15.300000000000011" fill="#ff0000"/>
<rect x="514.1" y="426.7" width="2.7999999999999545" height="15.300000000000011" fill="#ff0000"/>
<rect x="519" y="439" width="5" height="3.0" fill="#ff0000"/>
<rect x="422" y="439" width="3" height="3.0" fill="#ff0000"/>
<rect x="428" y="439" width="2" height="3.0" fill="#ff0000"/>
<rect x="433" y="439" width="3" height="3.0" fill="#ff0000"/>
</g>
<path d="M415.5,441.0 V288.5 H527.5 V441.0" fill="none" stroke="#9c9c9c" stroke-width="1"/>
<path d="M415.1,440.59h-1.0M527.9,440.59h1.0M415.1,435.19h-1.0M527.9,435.19h1.0M415.1,431.00h-1.0M527.9,431.00h1.0M415.1,427.58h-1.0M527.9,427.58h1.0M415.1,424.69h-1.0M527.9,424.69h1.0M415.1,422.19h-1.0M527.9,422.19h1.0M415.1,419.98h-1.0M527.9,419.98h1.0M415.1,418.00h-1.5M527.9,418.00h1.5M415.1,405.00h-1.0M527.9,405.00h1.0M415.1,397.39h-1.0M527.9,397.39h1.0M415.1,391.99h-1.0M527.9,391.99h1.0M415.1,387.80h-1.0M527.9,387.80h1.0M415.1,384.38h-1.0M527.9,384.38h1.0M415.1,381.49h-1.0M527.9,381.49h1.0M415.1,378.99h-1.0M527.9,378.99h1.0M415.1,376.78h-1.0M527.9,376.78h1.0M415.1,374.80h-1.5M527.9,374.80h1.5M415.1,361.80h-1.0M527.9,361.80h1.0M415.1,354.19h-1.0M527.9,354.19h1.0M415.1,348.79h-1.0M527.9,348.79h1.0M415.1,344.60h-1.0M527.9,344.60h1.0M415.1,341.18h-1.0M527.9,341.18h1.0M415.1,338.29h-1.0M527.9,338.29h1.0M415.1,335.79h-1.0M527.9,335.79h1.0M415.1,333.58h-1.0M527.9,333.58h1.0M415.1,331.60h-1.5M527.9,331.60h1.5M415.1,318.60h-1.0M527.9,318.60h1.0M415.1,310.99h-1.0M527.9,310.99h1.0M415.1,305.59h-1.0M527.9,305.59h1.0M415.1,301.40h-1.0M527.9,301.40h1.0M415.1,297.98h-1.0M527.9,297.98h1.0M415.1,295.09h-1.0M527.9,295.09h1.0M415.1,292.59h-1.0M527.9,292.59h1.0M415.1,290.38h-1.0M527.9,290.38h1.0M415.1,288.40h-1.5M527.9,288.40h1.5M426.10,288.0v-1.5M426.10,441.5v1.5M471.20,288.0v-1.5M471.20,441.5v1.5M516.30,288.0v-1.5M516.30,441.5v1.5" stroke="#666" stroke-width="0.9" fill="none"/>
<text x="407.0" y="428.6" text-anchor="end" font-family="Liberation Serif" font-size="21" fill="#262626">10<tspan font-size="15" dy="-10.4">-1</tspan></text>
<text x="407.0" y="385.4" text-anchor="end" font-family="Liberation Serif" font-size="21" fill="#262626">10<tspan font-size="15" dy="-10.4">0</tspan></text>
<text x="407.0" y="342.2" text-anchor="end" font-family="Liberation Serif" font-size="21" fill="#262626">10<tspan font-size="15" dy="-10.4">1</tspan></text>
<text x="407.0" y="299.0" text-anchor="end" font-family="Liberation Serif" font-size="21" fill="#262626">10<tspan font-size="15" dy="-10.4">2</tspan></text>
<text x="426.1" y="468.0" text-anchor="middle" font-family="Liberation Serif" font-size="21" fill="#262626">-0.2</text>
<text x="471.2" y="468.0" text-anchor="middle" font-family="Liberation Serif" font-size="21" fill="#262626">0</text>
<text x="516.3" y="468.0" text-anchor="middle" font-family="Liberation Serif" font-size="21" fill="#262626">0.2</text>
<text x="416.7" y="308.2" font-family="Liberation Serif" font-size="20" fill="#000">(g)</text>
<clipPath id="cph"><rect x="580.5" y="287.5" width="118.0" height="154.1"/></clipPath>
<line x1="580.5" y1="441.0" x2="698.5" y2="441.0" stroke="#9c9c9c" stroke-width="1"/>
<g clip-path="url(#cph)">
<path d="M648.50,461.00 L648.50,395.00 L647.00,380.00 L643.50,340.00 L641.00,297.00 L639.50,296.00 L638.00,297.00 L635.50,340.00 L631.50,385.00 L628.00,400.00 L628.00,461.00ZM631.60,400.41 L635.06,385.57 L639.09,340.26 L639.50,333.22 L639.91,340.26 L643.42,380.34 L644.90,395.18 L644.90,457.40 L631.60,457.40Z" fill="#0000ff" fill-rule="evenodd"/>
<rect x="604.9" y="434.6" width="5.0" height="7.399999999999977" fill="#0000ff"/>
<rect x="613.6" y="434.6" width="1.8999999999999773" height="7.399999999999977" fill="#0000ff"/>
<rect x="616.1" y="421.6" width="3.1000000000000227" height="20.399999999999977" fill="#0000ff"/>
<rect x="627" y="413.5" width="1.5" height="28.5" fill="#0000ff"/>
<rect x="654.9" y="409.2" width="3.1000000000000227" height="32.80000000000001" fill="#0000ff"/>
<rect x="652" y="414.7" width="3" height="27.30000000000001" fill="#0000ff"/>
<rect x="679" y="435.2" width="2.5" height="6.800000000000011" fill="#0000ff"/>
<path d="M652.40,461.00 L652.40,402.30 L649.30,402.30 L647.40,400.00 L646.00,380.00 L643.00,340.00 L641.00,294.00 L639.50,292.70 L638.00,294.00 L636.60,340.00 L632.70,380.00 L629.70,393.60 L629.70,461.00ZM633.70,457.00 L633.70,394.04 L636.66,380.63 L639.70,349.45 L642.01,380.29 L643.50,401.56 L647.40,406.28 L647.40,457.00Z" fill="#ff0000" fill-rule="evenodd"/>
<rect x="598.1" y="436.5" width="2.5" height="5.5" fill="#ff0000"/>
<rect x="616" y="434.6" width="16" height="7.399999999999977" fill="#ff0000"/>
<rect x="621" y="414.1" width="3.7999999999999545" height="27.899999999999977" fill="#ff0000"/>
<rect x="624.8" y="417.2" width="2.2000000000000455" height="24.80000000000001" fill="#ff0000"/>
<rect x="625.4" y="404.8" width="3.7000000000000455" height="37.19999999999999" fill="#ff0000"/>
<rect x="658" y="422.2" width="3" height="19.80000000000001" fill="#ff0000"/>
<rect x="647.4" y="434.6" width="18.600000000000023" height="7.399999999999977" fill="#ff0000"/>
<rect x="652.4" y="430" width="5.600000000000023" height="12.0" fill="#ff0000"/>
<rect x="669.1" y="434.6" width="2.5" height="7.399999999999977" fill="#ff0000"/>
<rect x="673.5" y="436.5" width="2.5" height="5.5" fill="#ff0000"/>
</g>
<path d="M580.5,441.0 V287.5 H698.5 V441.0" fill="none" stroke="#9c9c9c" stroke-width="1"/>
<path d="M580.1,440.90h-1.5M698.9,440.90h1.5M580.1,428.11h-1.0M698.9,428.11h1.0M580.1,420.62h-1.0M698.9,420.62h1.0M580.1,415.31h-1.0M698.9,415.31h1.0M580.1,411.19h-1.0M698.9,411.19h1.0M580.1,407.83h-1.0M698.9,407.83h1.0M580.1,404.98h-1.0M698.9,404.98h1.0M580.1,402.52h-1.0M698.9,402.52h1.0M580.1,400.34h-1.0M698.9,400.34h1.0M580.1,398.40h-1.5M698.9,398.40h1.5M580.1,385.61h-1.0M698.9,385.61h1.0M580.1,378.12h-1.0M698.9,378.12h1.0M580.1,372.81h-1.0M698.9,372.81h1.0M580.1,368.69h-1.0M698.9,368.69h1.0M580.1,365.33h-1.0M698.9,365.33h1.0M580.1,362.48h-1.0M698.9,362.48h1.0M580.1,360.02h-1.0M698.9,360.02h1.0M580.1,357.84h-1.0M698.9,357.84h1.0M580.1,355.90h-1.5M698.9,355.90h1.5M580.1,343.11h-1.0M698.9,343.11h1.0M580.1,335.62h-1.0M698.9,335.62h1.0M580.1,330.31h-1.0M698.9,330.31h1.0M580.1,326.19h-1.0M698.9,326.19h1.0M580.1,322.83h-1.0M698.9,322.83h1.0M580.1,319.98h-1.0M698.9,319.98h1.0M580.1,317.52h-1.0M698.9,317.52h1.0M580.1,315.34h-1.0M698.9,315.34h1.0M580.1,313.40h-1.5M698.9,313.40h1.5M580.1,300.61h-1.0M698.9,300.61h1.0M580.1,293.12h-1.0M698.9,293.12h1.0M580.1,287.81h-1.0M698.9,287.81h1.0M600.30,287.0v-1.5M600.30,441.5v1.5M639.40,287.0v-1.5M639.40,441.5v1.5M678.50,287.0v-1.5M678.50,441.5v1.5" stroke="#666" stroke-width="0.9" fill="none"/>
<text x="572.0" y="451.5" text-anchor="end" font-family="Liberation Serif" font-size="21" fill="#262626">10<tspan font-size="15" dy="-10.4">0</tspan></text>
<text x="572.0" y="409.0" text-anchor="end" font-family="Liberation Serif" font-size="21" fill="#262626">10<tspan font-size="15" dy="-10.4">1</tspan></text>
<text x="572.0" y="366.5" text-anchor="end" font-family="Liberation Serif" font-size="21" fill="#262626">10<tspan font-size="15" dy="-10.4">2</tspan></text>
<text x="572.0" y="324.0" text-anchor="end" font-family="Liberation Serif" font-size="21" fill="#262626">10<tspan font-size="15" dy="-10.4">3</tspan></text>
<text x="600.3" y="468.0" text-anchor="middle" font-family="Liberation Serif" font-size="21" fill="#262626">-0.01</text>
<text x="639.4" y="468.0" text-anchor="middle" font-family="Liberation Serif" font-size="21" fill="#262626">0</text>
<text x="678.5" y="468.0" text-anchor="middle" font-family="Liberation Serif" font-size="21" fill="#262626">0.01</text>
<text x="581.7" y="307.2" font-family="Liberation Serif" font-size="20" fill="#000">(h)</text>
<text x="131.6" y="485.5" text-anchor="middle" font-family="Liberation Serif" font-size="19" fill="#000">Gradient</text>
<text x="302.0" y="485.5" text-anchor="middle" font-family="Liberation Serif" font-size="19" fill="#000">Gradient</text>
<text x="473.0" y="485.5" text-anchor="middle" font-family="Liberation Serif" font-size="19" fill="#000">Gradient</text>
<text x="637.8" y="485.5" text-anchor="middle" font-family="Liberation Serif" font-size="19" fill="#000">Gradient</text>
<rect x="290.5" y="25.5" width="184" height="35" fill="#fff" stroke="#262626" stroke-width="1"/>
<line x1="292.5" y1="41.6" x2="322" y2="41.6" stroke="#0000ff" stroke-width="1.6"/>
<line x1="400.4" y1="41.6" x2="429.7" y2="41.6" stroke="#ff0000" stroke-width="1.6"/>
<path d="M326.90,34.10 L339.30,34.10 L332.90,46.60Z M329.04,35.10 L337.90,35.10 L333.32,44.02Z" fill="#000" fill-rule="evenodd"/>
<text x="340" y="51.5" font-family="Liberation Serif" font-size="12.5" font-style="italic" fill="#000">θ</text>
<text x="349" y="48.5" font-family="Liberation Serif" font-size="19" fill="#000">(</text>
<text x="355.5" y="46.8" font-family="Liberation Serif" font-size="18" font-style="italic" fill="#000">α</text>
<text x="365.5" y="46.8" font-family="Liberation Serif" font-size="16" font-style="italic" fill="#000">L</text>
<text x="375.3" y="50" font-family="Liberation Serif" font-size="9.5" font-style="italic" fill="#000">b</text>
<text x="382.5" y="48.5" font-family="Liberation Serif" font-size="19" fill="#000">)</text>
<path d="M435.20,34.10 L447.60,34.10 L441.20,46.60Z M437.34,35.10 L446.20,35.10 L441.62,44.02Z" fill="#000" fill-rule="evenodd"/>
<text x="448.5" y="51.5" font-family="Liberation Serif" font-size="12.5" font-style="italic" fill="#000">θ</text>
<text x="455.5" y="46.8" font-family="Liberation Serif" font-size="16" font-style="italic" fill="#000">L</text>
<text x="465.5" y="50" font-family="Liberation Serif" font-size="9.5" font-style="italic" fill="#000">ε</text>
<text x="518.5" y="494.5" font-family="&quot;Liberation Sans&quot;, sans-serif" font-size="17.5" fill="#8a8a8a" fill-opacity="0.85">CSDN @xuefanghanbao</text>
</svg></body></html>
